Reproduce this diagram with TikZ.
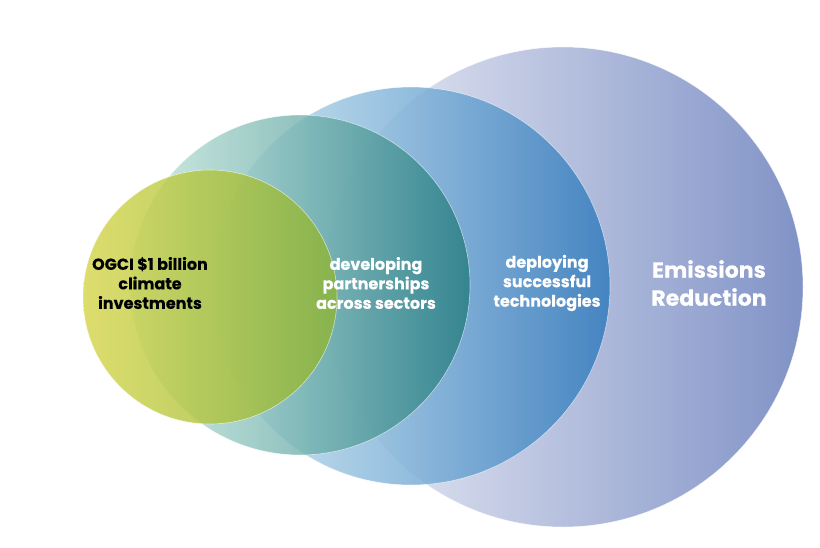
\documentclass[tikz,border=0pt]{standalone}
\usepackage{fontspec}
\setmainfont{Poppins}[FakeBold=0.2]
\begin{document}
\begin{tikzpicture}[x=1pt,y=-1pt,
  circ/.style={circle,draw=white,draw opacity=0.6,line width=0.6pt,inner sep=0pt},
  lbl/.style={align=center,font=\bfseries\fontsize{16}{19.5}\selectfont,text=white}]
\useasboundingbox (0,0) rectangle (820,547);
\fill[white] (0,0) rectangle (820,547);
\node[circ,minimum size=480pt,left color={rgb,255:red,236;green,238;blue,246},right color={rgb,255:red,122;green,141;blue,196},fill opacity=0.95] (c4) at (563,287) {};
\node[circ,minimum size=398pt,left color={rgb,255:red,205;green,232;blue,242},right color={rgb,255:red,52;green,124;blue,190},fill opacity=0.85] (c3) at (411,286) {};
\node[circ,minimum size=340pt,left color={rgb,255:red,200;green,234;blue,222},right color={rgb,255:red,36;green,124;blue,128},fill opacity=0.8] (c2) at (300,285) {};
\node[circ,minimum size=254pt,left color={rgb,255:red,214;green,214;blue,76},right color={rgb,255:red,140;green,180;blue,56},fill opacity=0.82] (c1) at (210,297) {};
\node[lbl,text=black] (t1) at (150,283) {OGCI \$1 billion\\climate\\investments};
\node[lbl] (t2) at (376,283) {developing\\partnerships\\across sectors};
\node[lbl] (t3) at (547,283) {deploying\\successful\\technologies};
\node[lbl,font=\bfseries\fontsize{22}{28}\selectfont] (t4) at (709,283) {Emissions\\Reduction};
\end{tikzpicture}
\end{document}
